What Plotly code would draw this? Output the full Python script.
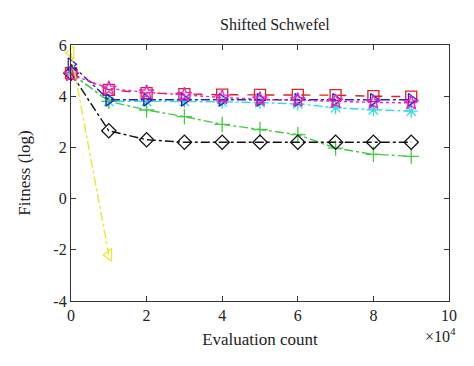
import plotly.graph_objects as go

x_full = [0, 1, 2, 3, 4, 5, 6, 7, 8, 9]
x_yellow = [0, 1]
y_yellow = [5.7, -2.2]
y_black = [4.9, 2.65, 2.3, 2.2, 2.2, 2.2, 2.2, 2.2, 2.2, 2.2]
y_green = [4.9, 3.8, 3.46, 3.2, 2.9, 2.7, 2.5, 1.97, 1.73, 1.65]
y_blue = [5.25, 3.86, 3.86, 3.86, 3.86, 3.86, 3.86, 3.86, 3.86, 3.86]
y_cyan = [4.9, 3.8, 3.8, 3.8, 3.78, 3.75, 3.7, 3.55, 3.47, 3.42]
y_red = [4.9, 4.25, 4.12, 4.08, 4.06, 4.05, 4.05, 4.04, 4.0, 3.98]
y_magenta = [4.85, 4.3, 4.15, 4.05, 3.95, 3.88, 3.85, 3.8, 3.76, 3.74]

x_ticks = [0, 2, 4, 6, 8, 10]
y_ticks = [-4, -2, 0, 2, 4, 6]

series = [
    (x_full, y_cyan, "#33dddd", "asterisk-open", "dashdot"),
    (x_full, y_green, "#44cc44", "cross-thin-open", "dashdot"),
    (x_full, y_black, "#111111", "diamond-open", "dashdot"),
    (x_full, y_red, "#dd2222", "square-open", "dash"),
    (x_full, y_blue, "#2222cc", "triangle-right-open", "dashdot"),
    (x_full, y_magenta, "#ee22cc", "star-open", "dot"),
    (x_yellow, y_yellow, "#e8e830", "triangle-left-open", "dashdot"),
]

fig = go.Figure()
for xs, ys, c, sym, dash in series:
    fig.add_trace(go.Scatter(
        x=xs, y=ys, mode="lines+markers",
        line=dict(color=c, width=1.4, dash=dash),
        marker=dict(symbol=sym, size=11, color=c, line=dict(color=c, width=1.3)),
        showlegend=False, cliponaxis=False,
    ))

font = dict(family="Liberation Serif, Times New Roman, serif", size=16, color="#222")
fig.update_layout(
    width=466, height=358,
    margin=dict(l=63, r=25, t=37, b=65),
    plot_bgcolor="white", paper_bgcolor="white",
    font=font,
    showlegend=False,
)
fig.update_xaxes(
    range=[0, 10], tickvals=x_ticks, ticktext=[str(v) for v in x_ticks],
    ticks="inside", ticklen=5, tickcolor="#333", showgrid=False, zeroline=False,
    showline=True, linecolor="#333", linewidth=1.2, mirror="ticks", automargin=False,
    title=dict(text="Evaluation count", font=dict(size=17), standoff=9),
)
fig.update_yaxes(
    range=[-4, 6], tickvals=y_ticks, ticktext=[str(v) for v in y_ticks],
    ticks="inside", ticklen=5, tickcolor="#333", showgrid=False, zeroline=False,
    showline=True, linecolor="#333", linewidth=1.2, mirror="ticks", automargin=False,
    title=dict(text="Fitness (log)", font=dict(size=17), standoff=18),
)
fig.add_annotation(text="Shifted Schwefel", xref="x domain", yref="y domain", x=0.54, y=1.04,
                   xanchor="center", yanchor="bottom", showarrow=False, font=dict(size=16))
fig.add_annotation(text="×10<sup>4</sup>", xref="x domain", yref="y domain", x=1.025, y=-0.085,
                   xanchor="right", yanchor="top", showarrow=False, font=dict(size=16))
fig.write_html("out.html")
